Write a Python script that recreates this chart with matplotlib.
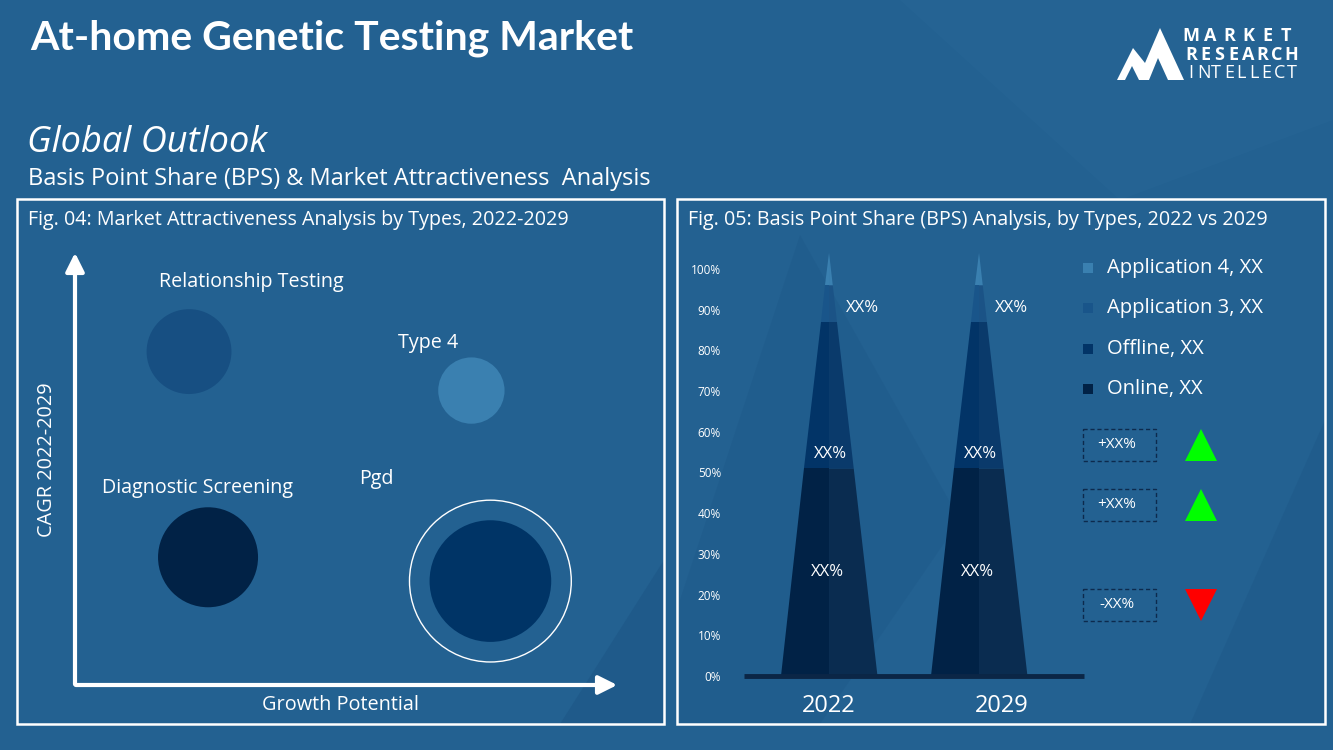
import numpy as np
import matplotlib.pyplot as plt
from matplotlib.patches import Polygon, Rectangle

plt.rcParams['font.family'] = ['Open Sans', 'DejaVu Sans']

# ---- data ----
bubble_names = ['Relationship Testing', 'Type 4', 'Diagnostic Screening', 'Pgd']
growth_potential = [2.1, 7.3, 2.45, 7.65]
cagr = [7.7, 6.8, 2.95, 2.4]
bubble_size = [18, 11, 25, 37]
bubble_colors = ['#174f82', '#3a80b0', '#012246', '#003466']

years = ['2022', '2029']
segments = ['Online, XX', 'Offline, XX', 'Application 3, XX', 'Application 4, XX']
shares_2022 = [51, 36, 9, 8]
shares_2029 = [51, 36, 9, 8]
seg_left = ['#012246', '#023467', '#19558a', '#3a80b0']
seg_right = ['#0a2c50', '#0a3a6b', '#1b5386', '#3a80b0']
yticks = [0, 10, 20, 30, 40, 50, 60, 70, 80, 90, 100]
changes = ['+XX%', '+XX%', '-XX%']

W, H = 1333, 750
BG = '#236191'

fig = plt.figure(figsize=(W / 100, H / 100), dpi=100)
fig.patch.set_facecolor(BG)


def px_axes(x0, y0, x1, y1, z=1):
    a = fig.add_axes([x0 / W, 1 - y1 / H, (x1 - x0) / W, (y1 - y0) / H])
    a.set_zorder(z)
    a.patch.set_alpha(0)
    return a


bg = px_axes(0, 0, W, H, z=0)
bg.set_xlim(0, W)
bg.set_ylim(H, 0)
bg.axis('off')

# faint background shapes
bg.add_patch(Polygon([(680, 600), (800, 235), (960, 520), (820, 724), (680, 724)],
                     closed=True, fc='#1d5686', alpha=0.35, lw=0))
bg.add_patch(Polygon([(1190, 724), (1325, 420), (1325, 724)], closed=True, fc='#1d5686', alpha=0.4, lw=0))
bg.add_patch(Polygon([(560, 724), (664, 560), (664, 724)], closed=True, fc='#1d5686', alpha=0.6, lw=0))
bg.add_patch(Polygon([(900, 0), (1333, 0), (1333, 120), (1120, 200)], closed=True, fc='#2a6a9a', alpha=0.3, lw=0))

# titles
bg.text(30, 38, 'At-home Genetic Testing Market', color='white', fontsize=29.5, fontweight='bold',
        va='center', ha='left', family=['Lato', 'DejaVu Sans'])
bg.text(27, 143, 'Global Outlook', color='white', fontsize=26, style='italic', va='center')
bg.text(28, 179, 'Basis Point Share (BPS) & Market Attractiveness  Analysis', color='white',
        fontsize=17, va='center')

# logo
bg.add_patch(Polygon([(1117, 80), (1133, 48), (1145, 63), (1160, 28), (1184, 80), (1168, 80),
                      (1158, 58), (1149, 80), (1139, 80), (1132, 66), (1125, 80)],
                     closed=True, fc='white', lw=0))
for word, y, step, wt in [('MARKET', 36, 19, 'bold'), ('RESEARCH', 55, 14.3, 'bold'),
                          ('INTELLECT', 73, 12.6, 'normal')]:
    for i, ch in enumerate(word):
        bg.text(1191 + i * step, y, ch, color='white', fontsize=13, fontweight=wt,
                ha='center', va='center')

# panels
for x0, x1 in [(17, 664), (677, 1325)]:
    bg.add_patch(Rectangle((x0, 199), x1 - x0, 525, fill=False, ec='white', lw=1.8))
bg.text(28, 220, 'Fig. 04: Market Attractiveness Analysis by Types, 2022-2029', color='white',
        fontsize=14.2, va='center')
bg.text(688, 220, 'Fig. 05: Basis Point Share (BPS) Analysis, by Types, 2022 vs 2029', color='white',
        fontsize=14.2, va='center')

# ---- Fig 04: bubble chart ----
ax = px_axes(75, 252, 618, 685)
ax.set_xlim(0, 10)
ax.set_ylim(0, 10)
ax.axis('off')
radii = np.sqrt(bubble_size) * 10  # pixels
ax.scatter(growth_potential, cagr, s=(2 * radii * 0.72) ** 2, c=bubble_colors, lw=0, zorder=2)
ax.scatter(growth_potential[3], cagr[3], s=(2 * radii[3] * 1.33 * 0.72) ** 2, facecolors='none',
           edgecolors='white', lw=1, zorder=2)
label_off = [(1.15, 1.6), (-0.8, 1.1), (-0.2, 1.6), (-2.1, 2.35)]
for name, gx, cy, (dx, dy) in zip(bubble_names, growth_potential, cagr, label_off):
    ax.text(gx + dx, cy + dy, name, color='white', fontsize=14.2, ha='center', va='center')

bg.annotate('', xy=(620, 685), xytext=(73, 685),
            arrowprops=dict(arrowstyle='-|>', color='white', lw=3, mutation_scale=28))
bg.annotate('', xy=(75, 250), xytext=(75, 687),
            arrowprops=dict(arrowstyle='-|>', color='white', lw=3, mutation_scale=28))
bg.text(340, 705, 'Growth Potential', color='white', fontsize=14.3, ha='center', va='center')
bg.text(47, 460, 'CAGR 2022-2029', color='white', fontsize=14.3, ha='center', va='center', rotation=90)

# ---- Fig 05: cone chart ----
cx = px_axes(744, 248.6, 1084, 676)
cx.set_xlim(-0.567, 1.7)
cx.set_ylim(0, 105)
for s in cx.spines.values():
    s.set_visible(False)
cx.set_xticks([])
cx.set_yticks(yticks)
cx.set_yticklabels([f'{t}%' for t in yticks], color='white', fontsize=8.5)
cx.tick_params(axis='y', length=0, pad=16.5)

half_w = 0.323
for i, shares in enumerate([shares_2022, shares_2029]):
    top = sum(shares)
    bounds = np.concatenate([[0], np.cumsum(shares)])
    for k in range(len(shares)):
        y0, y1 = bounds[k], bounds[k + 1]
        w0 = half_w * (1 - y0 / top)
        w1 = half_w * (1 - y1 / top)
        cx.add_patch(Polygon([(i - w0, y0), (i, y0), (i, y1), (i - w1, y1)], closed=True,
                             fc=seg_left[k], lw=0))
        cx.add_patch(Polygon([(i, y0), (i + w0, y0), (i + w1, y1), (i, y1)], closed=True,
                             fc=seg_right[k], lw=0))
    cx.text(i + 0.22, 90.5, 'XX%', color='white', fontsize=12, ha='center', va='center')
    cx.text(i + 0.01, 54.5, 'XX%', color='white', fontsize=12, ha='center', va='center')
    cx.text(i - 0.01, 25.5, 'XX%', color='white', fontsize=12, ha='center', va='center')
cx.plot([-0.567, 1.7], [0, 0], color='#0b2646', lw=3.5, clip_on=False, solid_capstyle='butt')

bg.text(829, 706, years[0], color='white', fontsize=17, ha='center', va='center')
bg.text(1002, 706, years[1], color='white', fontsize=17, ha='center', va='center')

# legend
for k, (name, col) in enumerate(zip(segments[::-1], seg_left[::-1])):
    y = 268 + k * 40.3
    bg.add_patch(Rectangle((1083, y - 5), 10, 10, fc=col, lw=0))
    bg.text(1107, y, name, color='white', fontsize=14.5, va='center')

# change boxes
for y, ch in zip([445, 505, 605], changes):
    bg.add_patch(Rectangle((1083, y - 16), 73, 32, fill=False, ec='#0d2a4d', lw=1, ls=(0, (3, 2))))
    bg.text(1117, y, ch, color='white', fontsize=11, ha='center', va='center')
    if ch.startswith('+'):
        tri = [(1185, y + 16), (1217, y + 16), (1201, y - 16)]
        col = '#00ff00'
    else:
        tri = [(1185, y - 16), (1217, y - 16), (1201, y + 16)]
        col = '#ff0000'
    bg.add_patch(Polygon(tri, closed=True, fc=col, lw=0))

fig.savefig('out.png', dpi=100, facecolor=BG)
